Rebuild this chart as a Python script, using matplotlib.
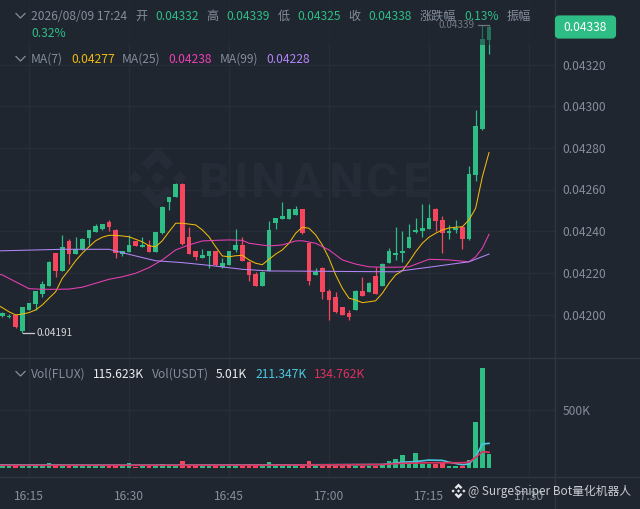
import matplotlib
matplotlib.use("Agg")
import matplotlib.pyplot as plt
from matplotlib.patches import Polygon, Rectangle, FancyBboxPatch
import numpy as np

plt.rcParams["font.family"] = ["Noto Sans CJK SC", "DejaVu Sans"]

# prices are written in units of 0.00001, one candle per minute from 16:11
opens = [4199.3, 4198.7, 4199.8, 4191.9, 4202.2, 4204.9, 4209.8, 4213.8, 4229.4, 4220.9,
         4235.3, 4229.0, 4231.3, 4236.9, 4239.7, 4240.9, 4244.4, 4240.6, 4228.9, 4230.0,
         4235.3, 4232.5, 4233.2, 4230.0, 4239.0, 4254.0, 4256.6, 4262.5, 4237.3, 4230.5,
         4227.3, 4228.1, 4230.5, 4222.9, 4223.8, 4230.8, 4233.4, 4225.3, 4219.4, 4213.8,
         4220.9, 4244.0, 4246.0, 4245.8, 4247.9, 4250.5, 4234.5, 4219.0, 4222.5, 4211.4,
         4208.3, 4203.5, 4200.6, 4202.2, 4211.4, 4210.9, 4218.5, 4213.8, 4224.9, 4228.6,
         4229.4, 4232.1, 4239.5, 4240.1, 4241.0, 4250.5, 4245.4, 4239.0, 4240.6, 4242.1,
         4236.1, 4267.0, 4289.0, 4332.0]
highs = [4201.2, 4200.2, 4200.0, 4203.6, 4205.6, 4211.5, 4216.2, 4225.5, 4229.6, 4238.2,
         4236.2, 4237.3, 4236.6, 4240.6, 4243.3, 4243.6, 4245.4, 4240.8, 4230.5, 4238.2,
         4235.5, 4237.0, 4236.0, 4239.7, 4252.0, 4256.5, 4263.0, 4263.0, 4242.1, 4230.7,
         4231.3, 4230.7, 4230.7, 4227.0, 4230.7, 4241.0, 4237.0, 4225.5, 4220.5, 4220.7,
         4245.0, 4246.4, 4254.1, 4250.7, 4252.1, 4250.7, 4234.7, 4222.2, 4222.7, 4212.1,
         4210.9, 4203.7, 4202.2, 4211.6, 4218.1, 4215.5, 4222.9, 4224.6, 4232.0, 4242.1,
         4240.0, 4243.3, 4246.2, 4253.0, 4253.0, 4251.1, 4247.3, 4243.0, 4245.4, 4242.3,
         4271.3, 4298.2, 4339.0, 4339.0]
lows = [4198.6, 4198.3, 4193.4, 4191.0, 4202.0, 4202.2, 4208.5, 4213.6, 4218.1, 4220.7,
        4224.2, 4229.0, 4231.1, 4233.4, 4239.5, 4240.7, 4240.0, 4227.3, 4228.1, 4229.8,
        4232.8, 4232.2, 4229.8, 4229.8, 4238.8, 4250.2, 4256.4, 4233.6, 4228.8, 4226.2,
        4227.1, 4222.2, 4223.4, 4222.5, 4223.6, 4230.1, 4225.6, 4216.2, 4213.6, 4213.6,
        4220.7, 4241.0, 4245.8, 4245.6, 4247.7, 4238.8, 4214.2, 4218.8, 4207.3, 4197.4,
        4200.9, 4199.7, 4197.4, 4202.0, 4208.8, 4210.7, 4209.6, 4213.6, 4224.7, 4226.2,
        4225.3, 4232.0, 4239.1, 4237.3, 4240.8, 4240.2, 4229.4, 4236.4, 4239.3, 4231.3,
        4236.0, 4264.2, 4288.8, 4325.0]
closes = [4200.5, 4199.3, 4193.9, 4203.5, 4205.4, 4211.3, 4214.5, 4225.3, 4220.9, 4232.3,
          4229.0, 4231.3, 4236.4, 4240.4, 4242.5, 4243.4, 4241.9, 4229.4, 4230.3, 4233.4,
          4233.0, 4233.4, 4230.0, 4239.5, 4251.5, 4256.3, 4262.6, 4233.8, 4229.0, 4227.7,
          4228.4, 4230.5, 4223.8, 4224.6, 4230.5, 4233.4, 4225.8, 4219.0, 4213.8, 4220.5,
          4240.4, 4246.2, 4247.3, 4250.5, 4250.5, 4239.0, 4216.1, 4220.5, 4210.9, 4207.0,
          4201.1, 4199.9, 4199.0, 4211.4, 4209.0, 4215.3, 4209.8, 4224.2, 4230.5, 4229.7,
          4230.5, 4237.3, 4240.6, 4241.4, 4246.2, 4245.0, 4239.0, 4240.2, 4241.4, 4236.1,
          4267.3, 4290.5, 4332.1, 4338.0]
volumes = [22, 14, 20, 25, 18, 16, 18, 43, 18, 16,
           20, 25, 16, 20, 14, 20, 18, 16, 14, 43,
           12, 16, 20, 18, 37, 18, 20, 60, 25, 22,
           14, 20, 18, 16, 20, 22, 28, 30, 18, 20,
           51, 25, 20, 14, 20, 18, 57, 20, 16, 22,
           14, 18, 24, 20, 16, 20, 18, 30, 57, 74,
           108, 46, 131, 37, 37, 37, 43, 20, 20, 20,
           71, 394, 860, 116]

ma7_minutes = list(range(-1, 74))
ma7 = [4205.0, 4203.3, 4201.3, 4199.8, 4200.2, 4200.9, 4202.2, 4204.6, 4207.8, 4210.9, 4217.4,
       4221.4, 4225.8, 4229.4, 4232.5, 4235.4, 4237.1, 4238.0, 4238.0, 4237.7, 4237.3,
       4236.1, 4234.9, 4233.0, 4232.5, 4235.4, 4239.7, 4243.8, 4243.8, 4243.4, 4243.0,
       4240.6, 4237.3, 4232.5, 4228.1, 4227.7, 4228.2, 4228.4, 4226.2, 4224.6, 4223.9,
       4226.5, 4229.0, 4231.0, 4234.2, 4239.0, 4241.9, 4241.4, 4238.2, 4233.4, 4227.0,
       4219.0, 4212.6, 4207.8, 4207.0, 4205.7, 4206.1, 4206.6, 4210.2, 4215.0, 4219.0,
       4221.0, 4225.3, 4230.1, 4234.2, 4237.1, 4239.0, 4240.6, 4241.5, 4241.9, 4242.1,
       4245.4, 4251.0, 4266.1, 4277.7]

# the slower averages are read at every few minutes
ma25_minutes = [-1, 0, 2, 4, 6, 8, 10, 12, 14, 16, 18, 20, 22, 24, 26, 28, 30, 32, 34, 36, 37,
                40, 42, 44, 45, 47, 49, 51, 53, 55, 57, 59, 61, 64, 67, 70, 71, 72, 73]
ma25 = [4219.6, 4219.0, 4215.7, 4212.4, 4212.1, 4212.1, 4212.2, 4213.1, 4215.0, 4216.9, 4218.1,
        4219.8, 4222.5, 4226.2, 4231.0, 4233.4, 4235.3, 4235.6, 4235.8, 4235.6, 4234.2,
        4232.9, 4233.4, 4235.3, 4235.4, 4234.2, 4231.0, 4226.2, 4224.2, 4222.9, 4222.7,
        4222.7, 4222.9, 4226.5, 4226.2, 4225.3, 4227.7, 4231.8, 4238.5]
ma99_minutes = [-1, 9, 16, 18, 20, 23, 27, 31, 36, 40, 59, 60, 64, 70, 73]
ma99 = [4230.5, 4231.3, 4231.3, 4229.7, 4228.1, 4225.8, 4224.9, 4223.6, 4221.7, 4220.9,
        4220.5, 4221.0, 4222.7, 4225.3, 4229.0]

vol_ma_minutes = [-1, 20, 40, 57, 60, 62, 64, 66, 67, 69, 70, 71, 72, 73]
vol_ma5 = [26, 24, 26, 30, 50, 55, 68, 65, 50, 28, 34, 97, 205, 211]
vol_ma10 = [23, 23, 24, 30, 40, 42, 45, 45, 45, 45, 50, 91, 139, 135]

price_ticks = [4200, 4220, 4240, 4260, 4280, 4300, 4320]
time_ticks = [4, 19, 34, 49, 64, 79]
time_labels = ["16:15", "16:30", "16:45", "17:00", "17:15", "17:30"]

BG = "#1f2630"
GRID = "#272e39"
SEP = "#2f3640"
GRAY = "#848e9c"
GREEN = "#2ebd85"
RED = "#f6465d"
YELLOW = "#f0b90b"
PINK = "#eb40b5"
PURPLE = "#b385f8"
CYAN = "#4cc9e0"
VRED = "#e0305f"
MARK = "#262c37"
FONT = 8.7

W, H = 640, 509
RIGHT = 555


def pane(top, bottom):
    # 画素で指定した範囲に軸を置く
    return [0, 1 - bottom / H, RIGHT / W, (bottom - top) / H]


def logo(ax, cx, cy, r, color, zorder=1):
    shapes = [
        [(0, 1), (0.52, 0.48), (0.30, 0.26), (0, 0.56), (-0.30, 0.26), (-0.52, 0.48)],
        [(0, -1), (0.52, -0.48), (0.30, -0.26), (0, -0.56), (-0.30, -0.26), (-0.52, -0.48)],
        [(0, 0.22), (0.22, 0), (0, -0.22), (-0.22, 0)],
        [(0.72, 0.22), (0.94, 0), (0.72, -0.22), (0.50, 0)],
        [(-0.72, 0.22), (-0.50, 0), (-0.72, -0.22), (-0.94, 0)],
    ]
    for s in shapes:
        pts = [(cx + px * r, cy - py * r) for px, py in s]
        ax.add_patch(Polygon(pts, closed=True, fc=color, ec="none", zorder=zorder))


def chevron(ax, y):
    ax.plot([16, 20.5, 25], [y - 2.5, y + 2, y - 2.5], color=GRAY, lw=0.9, zorder=6)


o, h, l, c = [np.array(v) * 1e-5 for v in (opens, highs, lows, closes)]
minutes = np.arange(len(o))
up = c >= o
colors = [GREEN if u else RED for u in up]

fig = plt.figure(figsize=(W / 100, H / 100), dpi=100, facecolor=BG)

# 背景（透かし）
bg = fig.add_axes([0, 0, 1, 1], zorder=0)
bg.set_xlim(0, W)
bg.set_ylim(H, 0)
bg.axis("off")
logo(bg, 157.5, 178, 31, MARK)
for ch, xc in zip("BINANCE", [215, 241, 268, 306.5, 346.5, 381.5, 416.5]):
    bg.text(xc, 197, ch, color=MARK, fontsize=35.5, family="Roboto", fontweight="bold",
            va="baseline", ha="center")

# ローソク足
ax = fig.add_axes(pane(0, 358), zorder=1)
ax.patch.set_visible(False)
xlim = (-0.345, 82.9)
ax.set_xlim(*xlim)
ax.set_ylim((4200 - 43.5 * 0.48) * 1e-5, (4200 + 314.5 * 0.48) * 1e-5)
ax.vlines(minutes, l, h, color=colors, lw=0.9, zorder=3)
ax.bar(minutes, np.abs(c - o), bottom=np.minimum(o, c), width=0.68, color=colors, zorder=3)
ax.plot(ma7_minutes, np.array(ma7) * 1e-5, color=YELLOW, lw=0.75, zorder=4)
ax.plot(ma25_minutes, np.array(ma25) * 1e-5, color=PINK, lw=0.75, zorder=4)
ax.plot(ma99_minutes, np.array(ma99) * 1e-5, color=PURPLE, lw=0.75, zorder=4)

lo_i = int(np.argmin(l))
ax.plot([lo_i + 0.1, lo_i + 1.7], [l[lo_i]] * 2, color="#c8ccd2", lw=0.9, zorder=4)
ax.text(lo_i + 2.2, l[lo_i], f"{l[lo_i]:.5f}", color="#d5d8dc", fontsize=7.2, va="center", zorder=4)
hi_i = int(np.argmax(h))
ax.plot([hi_i - 0.7, hi_i + 1], [h[hi_i]] * 2, color="#c8ccd2", lw=0.9, zorder=4)
ax.text(hi_i - 1.1, h[hi_i], f"{h[hi_i]:.5f}", color="#c8ccd2", fontsize=7.2, va="center",
        ha="right", zorder=4)

ax.yaxis.tick_right()
ax.set_yticks(np.array(price_ticks) * 1e-5)
ax.set_yticklabels([f"{p * 1e-5:.5f}" for p in price_ticks], color=GRAY, fontsize=FONT)
ax.set_xticks(time_ticks)
ax.tick_params(length=0, labelbottom=False)
ax.tick_params(axis="y", pad=5.5)
ax.grid(color=GRID, lw=0.9, zorder=0)
ax.set_axisbelow(True)
for s in ax.spines.values():
    s.set_visible(False)

# 出来高
vx = fig.add_axes(pane(358, 477), zorder=1)
vx.patch.set_visible(False)
vx.set_xlim(*xlim)
px = 500 / 58.4
vx.set_ylim(-9 * px, 110 * px)
vx.bar(minutes, volumes, width=0.68, color=colors, zorder=3)
vx.plot(vol_ma_minutes, vol_ma5, color=CYAN, lw=1.2, zorder=4)
vx.plot(vol_ma_minutes, vol_ma10, color=VRED, lw=1.2, zorder=5)
vx.yaxis.tick_right()
vx.set_yticks([500])
vx.set_yticklabels(["500K"], color=GRAY, fontsize=FONT)
vx.set_xticks(time_ticks)
vx.set_xticklabels(time_labels, color=GRAY, fontsize=FONT)
vx.tick_params(length=0)
vx.tick_params(axis="y", pad=5.5)
vx.tick_params(axis="x", pad=9.5)
vx.grid(color=GRID, lw=0.9, zorder=0)
vx.set_axisbelow(True)
for s in vx.spines.values():
    s.set_visible(False)

# 文字と区切り線
top = fig.add_axes([0, 0, 1, 1], zorder=2)
top.patch.set_visible(False)
top.set_xlim(0, W)
top.set_ylim(H, 0)
top.axis("off")
top.add_patch(Rectangle((0, 0), RIGHT, 44.5, fc=BG, ec="none", alpha=0.5, zorder=2))
top.plot([0, W], [358, 358], color=SEP, lw=1, zorder=3)
top.plot([0, W], [477, 477], color=SEP, lw=1, zorder=3)
top.plot([RIGHT, RIGHT], [0, H], color=SEP, lw=1, zorder=3)

header = [
    (31, 16.5, "2026/08/09 17:24", GRAY), (135, 16.5, "开", GRAY), (155, 16.5, "0.04332", GREEN),
    (206, 16.5, "高", GRAY), (226, 16.5, "0.04339", GREEN), (278, 16.5, "低", GRAY),
    (297, 16.5, "0.04325", GREEN), (348, 16.5, "收", GRAY), (368, 16.5, "0.04338", GREEN),
    (420, 16.5, "涨跌幅", GRAY), (464, 16.5, "0.13%", GREEN), (507, 16.5, "振幅", GRAY),
    (31, 33, "0.32%", GREEN),
    (31, 59, "MA(7)", GRAY), (71, 59, "0.04277", YELLOW), (122, 59, "MA(25)", GRAY),
    (168, 59, "0.04238", PINK), (220, 59, "MA(99)", GRAY), (266, 59, "0.04228", PURPLE),
    (31, 374, "Vol(FLUX)", GRAY), (93, 374, "115.623K", "#eaecef"), (152, 374, "Vol(USDT)", GRAY),
    (216, 374, "5.01K", "#eaecef"), (255, 374, "211.347K", CYAN), (314, 374, "134.762K", VRED),
]
for x, y, s, col in header:
    top.text(x, y, s, color=col, fontsize=FONT, va="center", zorder=6)
for y in (16, 59, 374):
    chevron(top, y)

top.add_patch(FancyBboxPatch((557, 17.5), 57, 19, boxstyle="round,pad=0,rounding_size=2",
                             fc=GREEN, ec=GREEN, lw=3, zorder=6))
top.text(585.5, 27.5, "0.04338", color="white", fontsize=FONT, ha="center", va="center", zorder=7)

logo(top, 458.5, 491, 7.5, "#e6e8ea", zorder=7)
top.text(468, 491, "@ SurgeSniper Bot量化机器人", color="#c8ccd2", fontsize=8.5, va="center", zorder=7)

fig.savefig("out.png", dpi=100, facecolor=BG)
